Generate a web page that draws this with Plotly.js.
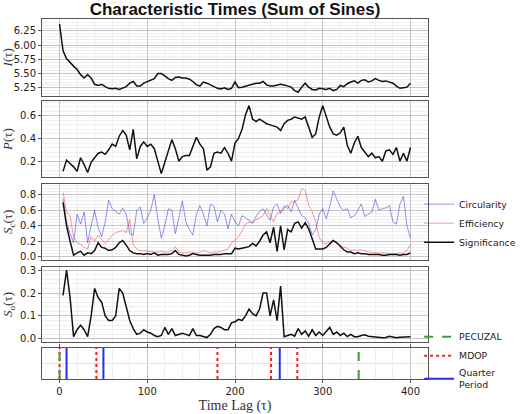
<!DOCTYPE html>
<html>
<head>
<meta charset="utf-8">
<script src="https://cdn.plot.ly/plotly-3.0.1.min.js"></script>
<style>html,body{margin:0;padding:0;background:#fff;}#chart{width:520px;height:414px;}</style>
</head>
<body>
<div id="chart"></div>
<script>
// Lag sampling (library builds x from x0/dx)
const lagStart1 = 0, lagStart = 4, lagStep = 4;

// Panel 1: I(tau), lags 0..400
const mutualInfo = [6.37,5.90,5.76,5.69,5.63,5.57,5.48,5.42,5.48,5.42,
  5.31,5.29,5.31,5.27,5.24,5.23,5.24,5.22,5.25,5.27,
  5.33,5.36,5.28,5.28,5.33,5.36,5.38,5.41,5.50,5.50,
  5.46,5.41,5.38,5.43,5.44,5.42,5.42,5.40,5.36,5.30,
  5.28,5.35,5.33,5.30,5.26,5.24,5.23,5.25,5.22,5.24,
  5.35,5.25,5.26,5.28,5.30,5.32,5.33,5.33,5.36,5.30,
  5.28,5.28,5.30,5.31,5.30,5.28,5.26,5.20,5.17,5.26,
  5.33,5.26,5.22,5.21,5.24,5.23,5.22,5.24,5.20,5.22,
  5.29,5.27,5.32,5.35,5.37,5.33,5.38,5.39,5.35,5.37,
  5.41,5.38,5.36,5.37,5.35,5.33,5.28,5.24,5.25,5.26,
  5.33];

// Panel 2: P(tau), lags 4..400
const pValues = [0.11,0.21,0.18,0.15,0.11,0.23,0.17,0.10,0.19,0.23,
  0.27,0.28,0.26,0.30,0.35,0.33,0.42,0.47,0.43,0.30,
  0.48,0.22,0.33,0.37,0.33,0.35,0.31,0.20,0.09,0.19,
  0.30,0.39,0.31,0.20,0.24,0.25,0.25,0.33,0.41,0.35,
  0.31,0.12,0.15,0.27,0.28,0.27,0.32,0.27,0.20,0.36,
  0.40,0.48,0.61,0.69,0.57,0.55,0.57,0.55,0.53,0.52,
  0.51,0.50,0.47,0.53,0.56,0.57,0.59,0.58,0.57,0.59,
  0.50,0.41,0.44,0.59,0.69,0.59,0.50,0.44,0.43,0.45,
  0.50,0.34,0.27,0.36,0.42,0.32,0.28,0.24,0.27,0.23,
  0.24,0.20,0.29,0.30,0.26,0.32,0.20,0.27,0.20,0.32];

// Panel 3: S_c(tau), lags 4..400
const circularity = [0.75,0.45,0.30,0.18,0.55,0.42,0.58,0.18,0.40,0.60,
  0.37,0.26,0.45,0.73,0.62,0.58,0.55,0.63,0.55,0.30,
  0.28,0.60,0.64,0.43,0.50,0.60,0.80,0.49,0.24,0.40,
  0.62,0.60,0.30,0.50,0.72,0.45,0.35,0.28,0.55,0.66,
  0.55,0.40,0.68,0.65,0.45,0.60,0.55,0.36,0.55,0.45,
  0.40,0.53,0.50,0.47,0.44,0.52,0.58,0.62,0.55,0.47,
  0.64,0.68,0.56,0.63,0.66,0.58,0.73,0.63,0.53,0.50,
  0.43,0.28,0.35,0.55,0.62,0.49,0.65,0.85,0.75,0.64,
  0.60,0.62,0.50,0.53,0.60,0.68,0.52,0.55,0.58,0.74,
  0.60,0.62,0.63,0.66,0.45,0.42,0.68,0.78,0.40,0.24];
const efficiency = [0.83,0.58,0.53,0.25,0.18,0.16,0.12,0.10,0.26,0.20,
  0.28,0.22,0.17,0.22,0.28,0.31,0.33,0.34,0.31,0.48,
  0.15,0.10,0.08,0.08,0.07,0.07,0.06,0.06,0.07,0.06,
  0.06,0.08,0.13,0.06,0.05,0.05,0.06,0.06,0.05,0.06,
  0.08,0.06,0.05,0.06,0.06,0.07,0.09,0.10,0.18,0.21,
  0.26,0.33,0.42,0.45,0.43,0.48,0.50,0.53,0.62,0.53,
  0.45,0.56,0.58,0.66,0.62,0.71,0.70,0.74,0.88,0.86,
  0.66,0.58,0.45,0.25,0.18,0.17,0.19,0.21,0.18,0.15,
  0.12,0.11,0.08,0.09,0.08,0.09,0.07,0.06,0.06,0.05,
  0.05,0.05,0.05,0.04,0.04,0.04,0.05,0.05,0.08,0.16];
const significance = [0.70,0.40,0.20,0.02,0.05,0.07,0.02,0.05,0.04,0.08,
  0.18,0.12,0.11,0.08,0.09,0.12,0.18,0.21,0.15,0.08,
  0.05,0.04,0.04,0.03,0.04,0.03,0.05,0.02,0.03,0.03,
  0.03,0.04,0.08,0.03,0.02,0.01,0.02,0.04,0.03,0.02,
  0.02,0.02,0.02,0.03,0.03,0.03,0.04,0.04,0.04,0.11,
  0.10,0.11,0.12,0.13,0.17,0.14,0.20,0.28,0.32,0.18,
  0.38,0.07,0.40,0.09,0.35,0.32,0.43,0.45,0.37,0.44,
  0.36,0.24,0.10,0.10,0.10,0.12,0.17,0.21,0.18,0.13,
  0.09,0.06,0.06,0.04,0.05,0.04,0.04,0.03,0.03,0.03,
  0.03,0.02,0.02,0.03,0.03,0.03,0.02,0.03,0.03,0.05];

// Panel 4: S_o(tau), lags 4..400
const soValues = [0.19,0.30,0.18,0.01,0.04,0.06,0.04,0.01,0.10,0.22,
  0.18,0.16,0.10,0.08,0.08,0.10,0.22,0.20,0.14,0.08,
  0.045,0.02,0.025,0.04,0.03,0.025,0.015,0.01,0.015,0.05,
  0.02,0.045,0.015,0.02,0.025,0.02,0.015,0.045,0.015,0.015,
  0.01,0.006,0.02,0.045,0.055,0.05,0.04,0.04,0.07,0.075,
  0.085,0.08,0.10,0.13,0.11,0.10,0.13,0.20,0.20,0.10,
  0.17,0.08,0.23,0.01,0.015,0.02,0.012,0.045,0.02,0.035,
  0.012,0.04,0.015,0.03,0.015,0.035,0.05,0.02,0.03,0.015,
  0.025,0.01,0.02,0.01,0.01,0.015,0.018,0.012,0.01,0.006,
  0.006,0.005,0.006,0.012,0.008,0.005,0.007,0.008,0.007,0.009];

// Panel 5: characteristic lags
const pecuzalLags = [0, 341];
const mdopLags = [0, 42, 180, 241, 271];
const quarterLags = [8, 50, 251];

function vlines(lags) {
  const x = [], y = [];
  lags.forEach(v => { x.push(v, v, null); y.push(0, 1, null); });
  return {x, y};
}

const sansFont = 'DejaVu Sans, Liberation Sans, sans-serif';
const serifFont = 'Liberation Serif, DejaVu Serif, serif';
const lineBlack = {color: '#111', width: 1.5};

const traces = [
  {x0: lagStart1, dx: lagStep, y: mutualInfo, type: 'scatter', mode: 'lines', line: lineBlack, xaxis: 'x', yaxis: 'y', showlegend: false},
  {x0: lagStart, dx: lagStep, y: pValues, type: 'scatter', mode: 'lines', line: lineBlack, xaxis: 'x', yaxis: 'y2', showlegend: false},
  {x0: lagStart, dx: lagStep, y: circularity, type: 'scatter', mode: 'lines', name: 'Circularity', line: {color: 'rgba(40,40,230,0.5)', width: 1}, xaxis: 'x', yaxis: 'y3', legend: 'legend'},
  {x0: lagStart, dx: lagStep, y: efficiency, type: 'scatter', mode: 'lines', name: 'Efficiency', line: {color: 'rgba(240,30,30,0.45)', width: 1}, xaxis: 'x', yaxis: 'y3', legend: 'legend'},
  {x0: lagStart, dx: lagStep, y: significance, type: 'scatter', mode: 'lines', name: 'Significance', line: lineBlack, xaxis: 'x', yaxis: 'y3', legend: 'legend'},
  {x0: lagStart, dx: lagStep, y: soValues, type: 'scatter', mode: 'lines', line: lineBlack, xaxis: 'x', yaxis: 'y4', showlegend: false},
];
const pv = vlines(pecuzalLags), mv = vlines(mdopLags), qv = vlines(quarterLags);
traces.push({x: mv.x, y: mv.y, type: 'scatter', mode: 'lines', name: 'MDOP', line: {color: '#ee2222', width: 2, dash: 'dot'}, xaxis: 'x', yaxis: 'y5', legend: 'legend2', legendrank: 2});
traces.push({x: qv.x, y: qv.y, type: 'scatter', mode: 'lines', name: 'Quarter<br>Period', line: {color: '#2a2af0', width: 2}, xaxis: 'x', yaxis: 'y5', legend: 'legend2', legendrank: 3});
traces.push({x: pv.x, y: pv.y, type: 'scatter', mode: 'lines', name: 'PECUZAL', line: {color: '#3aa03a', width: 2, dash: 'dash'}, xaxis: 'x', yaxis: 'y5', legend: 'legend2', legendrank: 1});

const frame = '#555';
const majorGrid = '#b8b8b8';
const minorGrid = '#e4e4e4';
function yax(domain, range, dtick, fmt, minorStep, title, standoff) {
  return {
    domain, range, dtick, tick0: 0, tickformat: fmt, anchor: 'x',
    showline: true, mirror: true, linecolor: frame, linewidth: 1,
    ticks: 'outside', ticklen: 3, tickcolor: frame,
    gridcolor: majorGrid, gridwidth: 0.8, zeroline: false,
    minor: {dtick: minorStep, showgrid: true, gridcolor: minorGrid, gridwidth: 0.6, ticks: ''},
    tickfont: {family: sansFont, size: 10, color: '#222'},
    title: {text: title, font: {family: serifFont, size: 13, color: '#333'}, standoff}
  };
}

const layout = {
  width: 520, height: 414,
  margin: {l: 42, r: 92, t: 19, b: 35, autoexpand: false},
  paper_bgcolor: '#fff', plot_bgcolor: '#fff',
  title: {text: '<b>Characteristic Times (Sum of Sines)</b>', font: {family: 'Liberation Sans, Arial, sans-serif', size: 17, color: '#111'}, x: 0.5, xref: 'paper', xanchor: 'center', y: 0.977, yref: 'container', yanchor: 'middle'},
  xaxis: {
    domain: [0, 1], range: [-20, 420], anchor: 'y5', dtick: 100, tick0: 0,
    showline: true, mirror: 'all', linecolor: frame, linewidth: 1,
    ticks: 'outside', ticklen: 3, tickcolor: frame,
    gridcolor: majorGrid, gridwidth: 0.8, zeroline: false,
    minor: {dtick: 20, showgrid: true, gridcolor: minorGrid, gridwidth: 0.6, ticks: ''},
    tickfont: {family: sansFont, size: 10, color: '#222'},
    title: {text: 'Time Lag (τ)', font: {family: serifFont, size: 14, color: '#333'}, standoff: 4}
  },
  yaxis: yax([0.787, 1.0], [5.11, 6.46], 0.25, '.2f', 0.05, '<i>I</i>(τ)', 2),
  yaxis2: yax([0.561, 0.772], [0.06, 0.73], 0.2, '.1f', 0.04, '<i>P</i>(τ)', 8),
  yaxis3: yax([0.331, 0.542], [-0.04, 0.94], 0.2, '.1f', 0.04, '<i>S</i><sub>c</sub>(τ)', 8),
  yaxis4: yax([0.103, 0.311], [-0.013, 0.313], 0.1, '.1f', 0.02, '<i>S</i><sub>o</sub>(τ)', 8),
  yaxis5: {domain: [0, 0.086], range: [0, 1], anchor: 'x', showline: true, mirror: true, linecolor: frame, linewidth: 1,
    showticklabels: false, ticks: '', dtick: 0.5, tick0: 0, gridcolor: minorGrid, zeroline: false},
  legend: {xref: 'container', yref: 'container', x: 0.806, xanchor: 'left', y: 0.461, yanchor: 'middle', bgcolor: 'rgba(0,0,0,0)',
    font: {family: sansFont, size: 9.3, color: '#222'}, tracegroupgap: 0, itemwidth: 30},
  legend2: {xref: 'container', yref: 'container', x: 0.806, xanchor: 'left', y: 0.13, yanchor: 'middle', bgcolor: 'rgba(0,0,0,0)',
    font: {family: sansFont, size: 9.3, color: '#222'}, tracegroupgap: 0, itemwidth: 30, traceorder: 'normal'},
  showlegend: true
};

Plotly.newPlot('chart', traces, layout, {displayModeBar: false, staticPlot: true});
</script>
</body>
</html>
